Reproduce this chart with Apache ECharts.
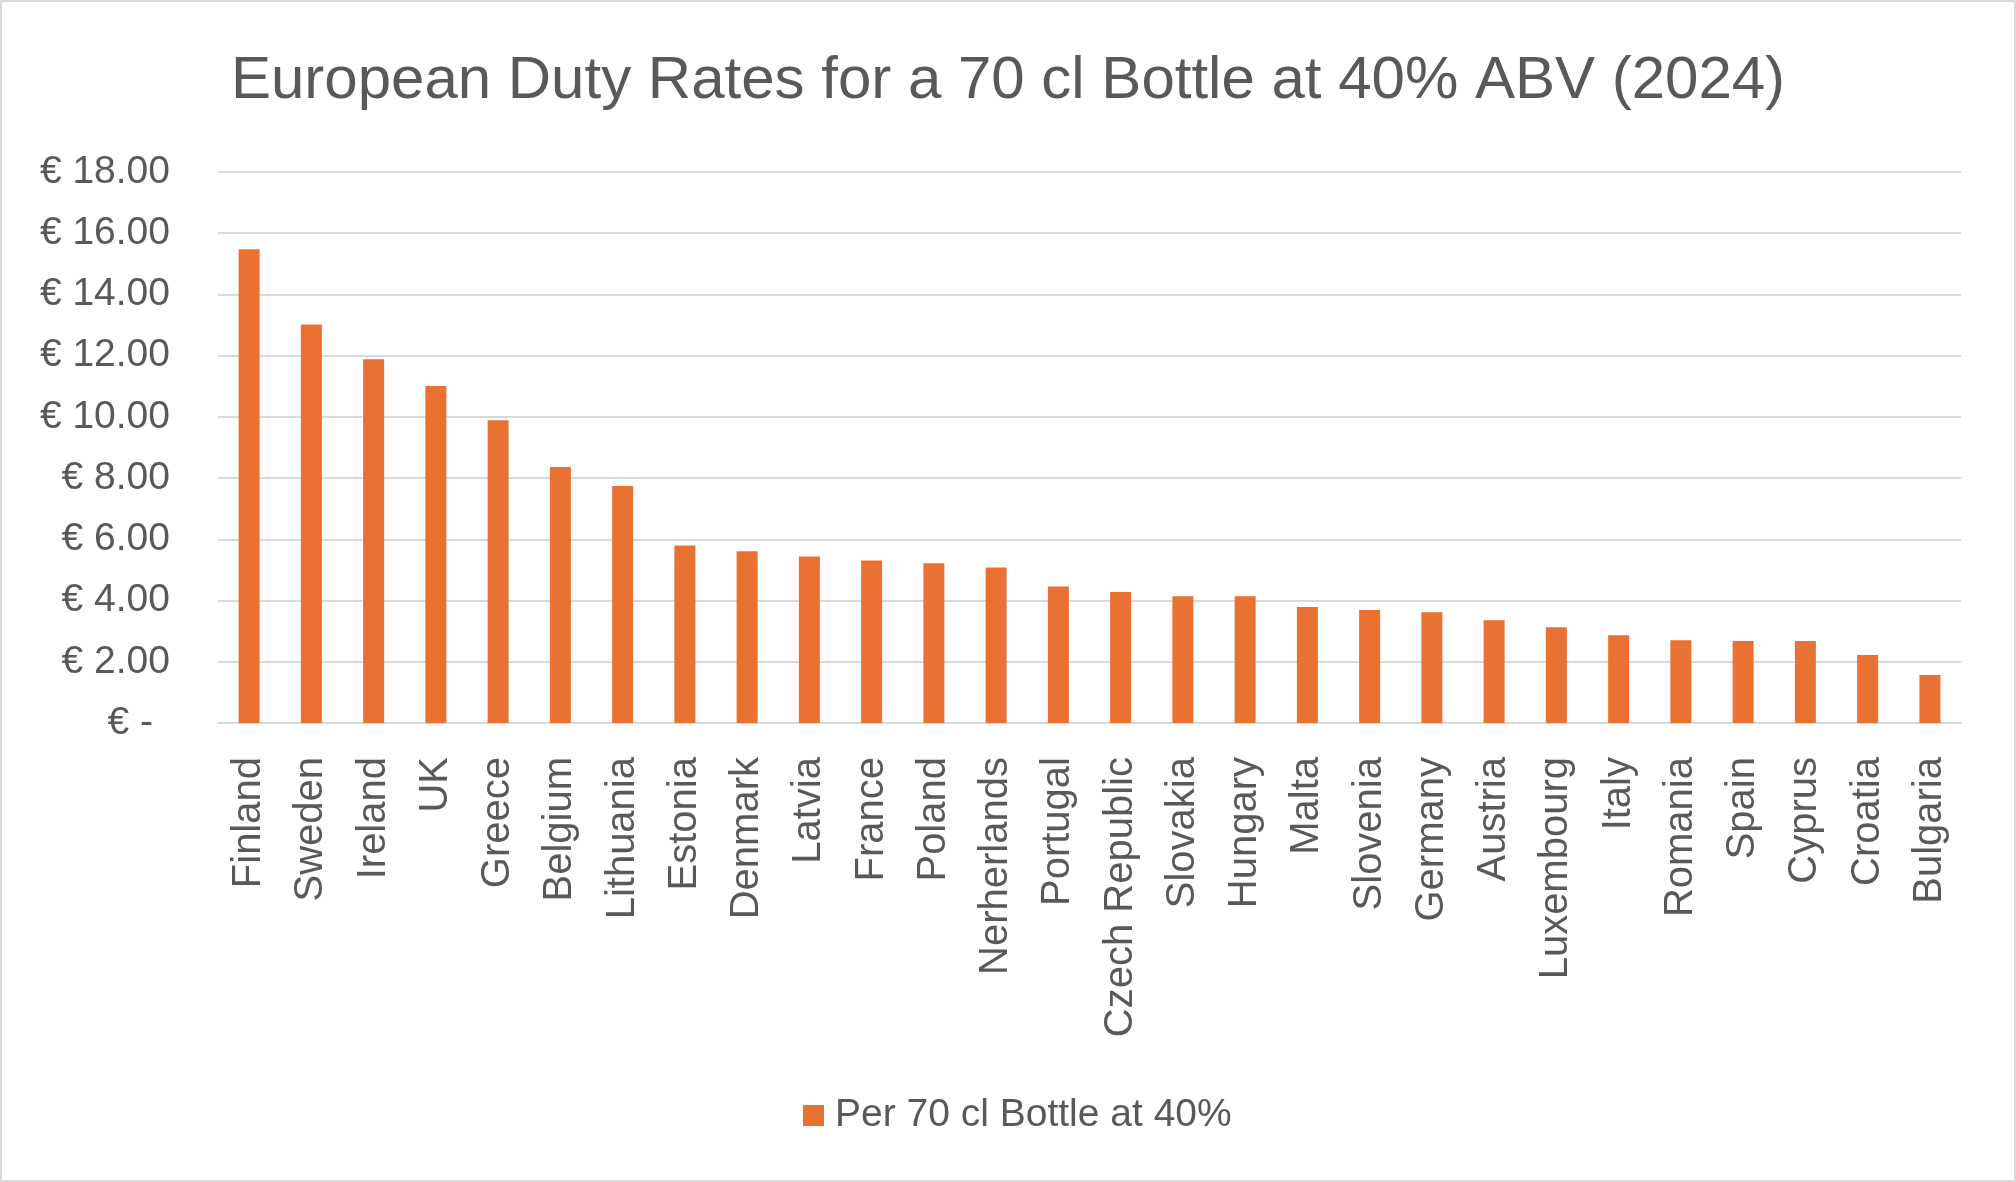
<!DOCTYPE html>
<html>
<head>
<meta charset="utf-8">
<script src="https://cdn.jsdelivr.net/npm/echarts@6/dist/echarts.min.js"></script>
<style>
html, body { margin: 0; padding: 0; background: #fff; }
#chart { width: 2016px; height: 1182px; box-sizing: border-box; border: 2px solid #d9d9d9; }
</style>
</head>
<body>
<div id="chart"></div>
<script>
const countries = ['Finland', 'Sweden', 'Ireland', 'UK', 'Greece', 'Belgium', 'Lithuania', 'Estonia',
  'Denmark', 'Latvia', 'France', 'Poland', 'Nerherlands', 'Portugal', 'Czech Republic', 'Slovakia',
  'Hungary', 'Malta', 'Slovenia', 'Germany', 'Austria', 'Luxembourg', 'Italy', 'Romania', 'Spain',
  'Cyprus', 'Croatia', 'Bulgaria'];
const dutyPerBottle = [15.48, 13.02, 11.88, 11.01, 9.89, 8.36, 7.74, 5.80,
  5.61, 5.44, 5.31, 5.22, 5.08, 4.46, 4.28, 4.14,
  4.14, 3.79, 3.69, 3.62, 3.36, 3.13, 2.87, 2.70, 2.68,
  2.68, 2.22, 1.57];
const yTicks = [0, 2, 4, 6, 8, 10, 12, 14, 16, 18];

const font = '"Liberation Sans", Arial, sans-serif';
const textColor = '#595959';

const chart = echarts.init(document.getElementById('chart'));
const option = {
  animation: false,
  title: {
    text: 'European Duty Rates for a 70 cl Bottle at 40% ABV (2024)',
    left: 'center',
    top: 44,
    textStyle: { fontFamily: font, fontSize: 60, fontWeight: 'normal', color: textColor }
  },
  legend: {
    bottom: 40,
    left: 796,
    icon: 'rect',
    itemWidth: 21,
    itemHeight: 21,
    textStyle: { fontFamily: font, fontSize: 39, color: textColor, padding: [0, 0, 0, 6] }
  },
  grid: { left: 216, right: 53, top: 170, bottom: 457 },
  xAxis: {
    type: 'category',
    data: countries,
    axisLine: { lineStyle: { color: '#d9d9d9', width: 2 } },
    axisTick: { show: false },
    axisLabel: {
      rotate: 90,
      interval: 0,
      margin: 34,
      fontFamily: font,
      fontSize: 40,
      color: textColor
    }
  },
  yAxis: {
    type: 'value',
    min: yTicks[0],
    max: yTicks[yTicks.length - 1],
    interval: 2,
    axisLine: { show: false },
    axisTick: { show: false },
    splitLine: { lineStyle: { color: '#d9d9d9', width: 2 } },
    axisLabel: {
      margin: 48,
      fontFamily: font,
      fontSize: 39,
      color: textColor,
      formatter: v => v === 0 ? '{z|€ -}' : '€ ' + v.toFixed(2),
      rich: { z: { fontFamily: font, fontSize: 39, color: textColor, padding: [0, 17, 0, 0] } }
    }
  },
  series: [{
    name: 'Per 70 cl Bottle at 40%',
    type: 'bar',
    data: dutyPerBottle,
    barWidth: 21,
    itemStyle: { color: '#E97132' }
  }]
};
chart.setOption(option);
</script>
</body>
</html>
